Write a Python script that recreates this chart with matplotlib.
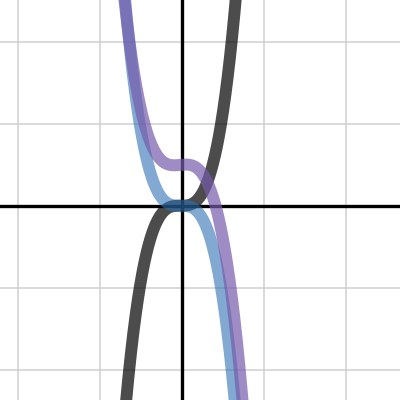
import numpy as np
import matplotlib
matplotlib.use("Agg")
import matplotlib.pyplot as plt

# Polynomial coefficients (highest power first) (grid unit = 1)
black_coef = [8.2, 0.4, 0.0, 0.0]
blue_coef = [-8.2, -0.4, 0.0, 0.0]
# purple: shifted curve, in terms of w = x - purple_shift[0], plus purple_shift[1]
purple_coef = [-6.65, -1.41, 0.0, 0.0]
purple_shift = [0.05, 0.503]

grid_ticks_x = [-2, -1, 0, 1, 2]
grid_ticks_y = [-2, -1, 0, 1, 2]

xlim = (-2.219, 2.665)
ylim = (-2.372, 2.512)

fig = plt.figure(figsize=(4, 4), dpi=100)
ax = fig.add_axes([0, 0, 1, 1])
ax.set_xlim(*xlim)
ax.set_ylim(*ylim)
ax.set_axisbelow(True)
for s in ax.spines.values():
    s.set_visible(False)
ax.set_xticks(grid_ticks_x)
ax.set_yticks(grid_ticks_y)
ax.tick_params(length=0, labelbottom=False, labelleft=False)
ax.grid(True, color="#cfcfcf", lw=1.1)
ax.axhline(0, color="#000000", lw=2.4, zorder=1.8)
ax.axvline(0, color="#000000", lw=2.4, zorder=1.8)

x = np.linspace(xlim[0], xlim[1], 2000)
lw = 8.6
ax.plot(x, np.polyval(black_coef, x), color="#000000", alpha=0.7, lw=lw,
        solid_capstyle="round", zorder=2)
ax.plot(x, np.polyval(blue_coef, x), color="#2d70b3", alpha=0.6, lw=lw,
        solid_capstyle="round", zorder=3)
ax.plot(x, np.polyval(purple_coef, x - purple_shift[0]) + purple_shift[1],
        color="#775bab", alpha=0.7, lw=lw, solid_capstyle="round", zorder=4)

fig.savefig("out.png", dpi=100)
